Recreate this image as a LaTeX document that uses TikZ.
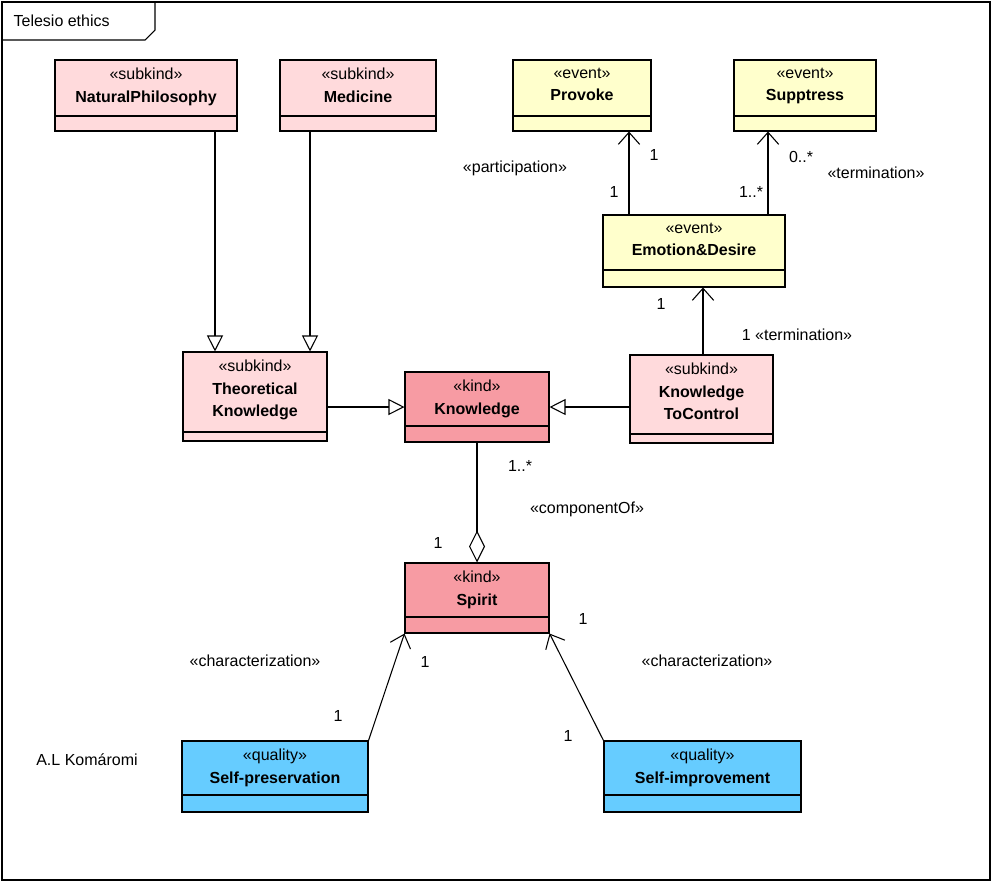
\documentclass[tikz,border=0pt]{standalone}
\usepackage{fontspec}
\setmainfont{Liberation Sans}
\usetikzlibrary{arrows.meta, positioning}
\definecolor{subkindpink}{RGB}{255,218,220}
\definecolor{kindpink}{RGB}{247,155,163}
\definecolor{eventyellow}{RGB}{255,255,204}
\definecolor{qualityblue}{RGB}{102,204,255}

\tikzset{
    umlbox/.style={rectangle, draw=black, thick, inner sep=0pt},
    boxtext/.style={align=center, inner sep=0pt, font=\fontsize{12}{17}\selectfont},
    lbl/.style={inner sep=1pt, font=\fontsize{12}{14}\selectfont},
    gen/.style={thick, -{Triangle[open, length=12pt, width=12pt]}},
    assoc/.style={thick, -{Straight Barb[length=9pt, width=16pt]}},
    aggr/.style={thick, {Diamond[open, length=24pt, width=12pt]}-}
}

% box: name, x1, y1, x2, y2, separator y, colour
\newcommand{\umlclass}[7]{%
  \node[umlbox, fill=#7, minimum width={(#4-#2)*0.75pt}, minimum height={(#5-#3)*0.75pt}] (#1) at ({(#2+#4)/2},{(#3+#5)/2}) {};
  \draw[thick] (#2,#6) -- (#4,#6);
}

\begin{document}
\begin{tikzpicture}[x=0.75pt, y=-0.75pt]
\useasboundingbox (0,0) rectangle (994,883);

% Frame
\draw[thick] (2,2) rectangle (990,880);
\draw[thick] (2,40) -- (145,40) -- (155,30) -- (155,2);
\node[lbl, anchor=west] (frametitle) at (12,21) {Telesio ethics};

% Classes
\umlclass{natphil}{55}{60}{237}{131}{116}{subkindpink}
\umlclass{medicine}{280}{60}{436}{131}{116}{subkindpink}
\umlclass{provoke}{513}{60}{651}{131}{116}{eventyellow}
\umlclass{supptress}{734}{60}{876}{131}{116}{eventyellow}
\umlclass{emotion}{603}{215}{785}{287}{270}{eventyellow}
\umlclass{theoretical}{183}{352}{327}{441}{432}{subkindpink}
\umlclass{knowledge}{405}{372}{549}{442}{426}{kindpink}
\umlclass{tocontrol}{630}{355}{773}{443}{434}{subkindpink}
\umlclass{spirit}{405}{563}{549}{633}{617}{kindpink}
\umlclass{selfpres}{182}{741}{368}{812}{795}{qualityblue}
\umlclass{selfimpr}{604}{741}{801}{812}{795}{qualityblue}

% Class texts
\node[boxtext, anchor=north] (natphil-t) at ([yshift=-6pt]natphil.north) {<<subkind>>\\\textbf{NaturalPhilosophy}};
\node[boxtext, anchor=north] (medicine-t) at ([yshift=-6pt]medicine.north) {<<subkind>>\\\textbf{Medicine}};
\node[boxtext, anchor=north] (provoke-t) at ([yshift=-6pt]provoke.north) {<<event>>\\\textbf{Provoke}};
\node[boxtext, anchor=north] (supptress-t) at ([yshift=-6pt]supptress.north) {<<event>>\\\textbf{Supptress}};
\node[boxtext, anchor=north] (emotion-t) at ([yshift=-6pt]emotion.north) {<<event>>\\\textbf{Emotion\&Desire}};
\node[boxtext, anchor=north] (theoretical-t) at ([yshift=-6pt]theoretical.north) {<<subkind>>\\\textbf{Theoretical}\\\textbf{Knowledge}};
\node[boxtext, anchor=north] (knowledge-t) at ([yshift=-6pt]knowledge.north) {<<kind>>\\\textbf{Knowledge}};
\node[boxtext, anchor=north] (tocontrol-t) at ([yshift=-6pt]tocontrol.north) {<<subkind>>\\\textbf{Knowledge}\\\textbf{ToControl}};
\node[boxtext, anchor=north] (spirit-t) at ([yshift=-6pt]spirit.north) {<<kind>>\\\textbf{Spirit}};
\node[boxtext, anchor=north] (selfpres-t) at ([yshift=-6pt]selfpres.north) {<<quality>>\\\textbf{Self-preservation}};
\node[boxtext, anchor=north] (selfimpr-t) at ([yshift=-6pt]selfimpr.north) {<<quality>>\\\textbf{Self-improvement}};

% Generalizations
\draw[gen] (natphil.south -| 215,0) -- (theoretical.north -| 215,0);
\draw[gen] (medicine.south -| 310,0) -- (theoretical.north -| 310,0);
\draw[gen] (theoretical.east |- 0,407) -- (knowledge.west |- 0,407);
\draw[gen] (tocontrol.west |- 0,407) -- (knowledge.east |- 0,407);

% Associations
\draw[assoc] (emotion.north -| 629,0) -- (provoke.south -| 629,0);
\draw[assoc] (emotion.north -| 768,0) -- (supptress.south -| 768,0);
\draw[assoc] (tocontrol.north -| 703,0) -- (emotion.south -| 703,0);
\draw[aggr] (spirit.north) -- (knowledge.south);
\draw[assoc] (selfpres.north east) -- (spirit.south west);
\draw[assoc] (selfimpr.north west) -- (spirit.south east);

% Labels
\node[lbl] (l1) at (654,155) {1};
\node[lbl] (l2) at (614,192) {1};
\node[lbl] (l3) at (515,168) {<<participation>>};
\node[lbl] (l4) at (801,157) {0..*};
\node[lbl] (l5) at (876,173) {<<termination>>};
\node[lbl] (l6) at (751,192) {1..*};
\node[lbl] (l7) at (661,304) {1};
\node[lbl] (l8) at (797,335) {1 <<termination>>};
\node[lbl] (l9) at (520,466) {1..*};
\node[lbl] (l10) at (587,509) {<<componentOf>>};
\node[lbl] (l11) at (438,543) {1};
\node[lbl] (l12) at (425,662) {1};
\node[lbl] (l13) at (338,716) {1};
\node[lbl] (l14) at (255,661) {<<characterization>>};
\node[lbl] (l15) at (583,619) {1};
\node[lbl] (l16) at (568,736) {1};
\node[lbl] (l17) at (707,661) {<<characterization>>};
\node[lbl] (author) at (87,760) {A.L Komáromi};
\end{tikzpicture}
\end{document}
